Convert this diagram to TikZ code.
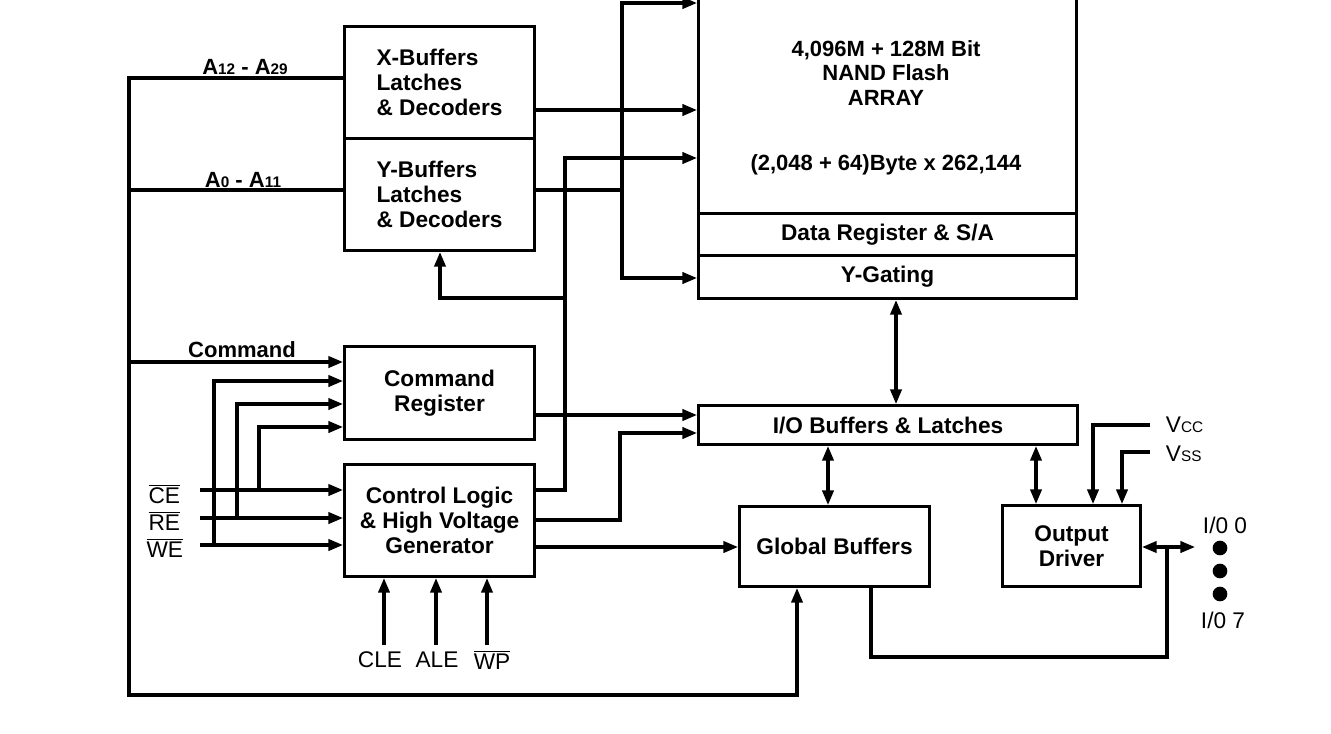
\documentclass[tikz,border=0pt]{standalone}
\usepackage{fontspec}
\setmainfont{Liberation Sans}
\usetikzlibrary{arrows.meta,calc}
\begin{document}
\begin{tikzpicture}[x=0.75pt,y=-0.75pt,
  line width=2.3pt,
  >={Triangle[length=11pt,width=8.5pt]},
  box/.style={draw,anchor=north west,inner sep=0pt,align=center,font=\bfseries\fontsize{17}{19}\selectfont},
  lbl/.style={font=\bfseries\fontsize{16.5}{18.5}\selectfont},
  plain/.style={font=\fontsize{17}{19}\selectfont},
  dot/.style={circle,fill,inner sep=0pt,minimum size=11pt}]
\newcommand\bx[7][]{\node[box,#1,minimum width={(#5-#3)*0.75pt},minimum height={(#6-#4)*0.75pt}] (#2) at (#3,#4) {#7};}
\newcommand\sm[1]{{\fontsize{11.5}{12}\selectfont #1}}
\useasboundingbox (0,0) rectangle (1331,733);
% boxes
\bx[align=left]{xb}{343}{25}{533}{137}{X-Buffers\\Latches\\\& Decoders}
\bx[align=left]{yb}{343}{137}{533}{249}{Y-Buffers\\Latches\\\& Decoders}
\bx{arr}{697}{-10}{1075}{212}{}
\node[lbl,align=center] (arrt) at (886,73) {4,096M + 128M Bit\\NAND Flash\\ARRAY};
\node[lbl] (arrb) at (886,165) {(2,048 + 64)Byte x 262,144};
\bx{dr}{697}{212}{1075}{254}{Data Register \& S/A}
\bx{yg}{697}{254}{1075}{297}{Y-Gating}
\bx{cr}{343}{345}{533}{438}{Command\\Register}
\bx{cl}{343}{463}{533}{575}{Control Logic\\\& High Voltage\\Generator}
\bx{iob}{697}{404}{1076}{443}{I/O Buffers \& Latches}
\bx{gb}{738}{505}{928}{585}{Global Buffers}
\bx{od}{1001}{504}{1139}{585}{Output\\Driver}
% labels
\node[lbl] (la1) at (245,67) {A\sm{12} - A\sm{29}};
\node[lbl] (la2) at (243,180) {A\sm{0} - A\sm{11}};
\node[lbl] (lcmd) at (242,350) {Command};
\node[plain,anchor=east] (lce) at (186,494) {$\overline{\mbox{CE}}$};
\node[plain,anchor=east] (lre) at (186,521) {$\overline{\mbox{RE}}$};
\node[plain,anchor=east] (lwe) at (189,548) {$\overline{\mbox{WE}}$};
\node[plain] (lcle) at (380,660) {CLE};
\node[plain] (lale) at (437,660) {ALE};
\node[plain] (lwp) at (492,660) {$\overline{\mbox{WP}}$};
\node[plain,anchor=west] (lvcc) at (1160,425) {V\sm{CC}};
\node[plain,anchor=west] (lvss) at (1160,454) {V\sm{SS}};
\node[plain,anchor=west] (lio0) at (1197,525) {I/0 0};
\node[plain,anchor=west] (lio7) at (1195,620) {I/0 7};
\node[dot] (d1) at (1220,548) {};
\node[dot] (d2) at (1220,571) {};
\node[dot] (d3) at (1220,594) {};
% coordinates
\coordinate (busT) at (129,78);
\coordinate (busB) at (129,695);
\coordinate (ce) at (200,490);
\coordinate (re) at (200,518);
\coordinate (we) at (200,545);
\coordinate (vcc) at (1150,425);
\coordinate (vss) at (1150,452);
\coordinate (ioend) at (1195,547);
% left bus
\draw[->] (xb.west|-busT) -- (busT) -- (busB) -| (gb.south-|797,0);
\draw (busT|-0,190) -- (yb.west|-0,190);
\draw[->] (busT|-0,362) -- (cr.west|-0,362);
% CE/RE/WE
\draw[->] (ce) -- (cl.west|-ce);
\draw[->] (re) -- (cl.west|-re);
\draw[->] (we) -- (cl.west|-we);
\draw[->] (259,490) -- (259,427) -- (cr.west|-0,427);
\draw[->] (237,518) -- (237,404) -- (cr.west|-0,404);
\draw[->] (214,545) -- (214,381) -- (cr.west|-0,381);
% CLE ALE WP
\draw[->] (384,645) -- (cl.south-|384,0);
\draw[->] (436,645) -- (cl.south-|436,0);
\draw[->] (487,645) -- (cl.south-|487,0);
% buffers to array
\draw[->] (xb.east|-0,110) -- (arr.west|-0,110);
\draw (yb.east|-0,190) -- (622,190);
\draw[->] (622,278) |- (arr.west|-0,3);
\draw[->] (622,190) |- (yg.west|-0,278);
% control logic outputs
\draw[->] (cl.east|-0,490) -| (565,158) -- (arr.west|-0,158);
\draw[->] (565,298) -| (yb.south-|440,0);
\draw[->] (cl.east|-0,520) -| (620,433) -- (iob.west|-0,433);
\draw[->] (cl.east|-0,547) -- (gb.west|-0,547);
\draw[->] (cr.east|-0,415) -- (iob.west|-0,415);
% vertical double arrows
\draw[<->] (yg.south-|896,0) -- (iob.north-|896,0);
\draw[<->] (iob.south-|828,0) -- (gb.north-|828,0);
\draw[<->] (iob.south-|1036,0) -- (od.north-|1036,0);
% power
\draw[->] (vcc) -| (od.north-|1093,0);
\draw[->] (vss) -| (od.north-|1122,0);
% output
\draw[<->] (od.east|-ioend) -- (ioend);
\draw (1167,547) -- (1167,657) -| (gb.south-|871,0);
\end{tikzpicture}
\end{document}
